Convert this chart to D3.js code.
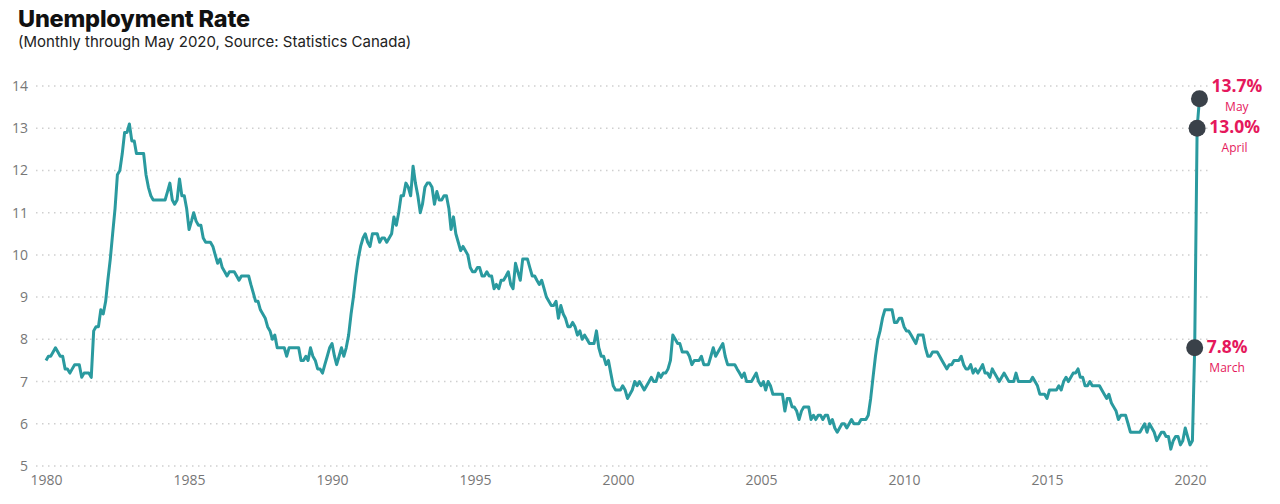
<!DOCTYPE html>
<html>
<head>
<meta charset="utf-8">
<script src="https://cdn.jsdelivr.net/npm/d3@7"></script>
<style>
  body { margin: 0; background: #fff; }
  svg text { font-family: "Open Sans", sans-serif; }
</style>
</head>
<body>
<svg id="chart" width="1280" height="504"></svg>
<script>
// monthly unemployment rate (%), Statistics Canada, Jan 1980 onward
const rate1980s = [
  7.5, 7.6, 7.6, 7.7, 7.8, 7.7, 7.6, 7.6, 7.3, 7.3, 7.2, 7.3,
  7.4, 7.4, 7.4, 7.1, 7.2, 7.2, 7.2, 7.1, 8.2, 8.3, 8.3, 8.7,
  8.6, 8.9, 9.4, 9.9, 10.5, 11.1, 11.9, 12.0, 12.4, 12.9, 12.9, 13.1,
  12.7, 12.7, 12.4, 12.4, 12.4, 12.4, 11.9, 11.6, 11.4, 11.3, 11.3, 11.3,
  11.3, 11.3, 11.3, 11.5, 11.7, 11.3, 11.2, 11.3, 11.8, 11.4, 11.4, 11.1,
  10.6, 10.8, 11.0, 10.8, 10.7, 10.7, 10.4, 10.3, 10.3, 10.3, 10.2, 10.0,
  9.8, 9.9, 9.7, 9.6, 9.5, 9.6, 9.6, 9.6, 9.5, 9.4, 9.5, 9.5,
  9.5, 9.5, 9.3, 9.1, 8.9, 8.9, 8.7, 8.6, 8.5, 8.3, 8.2, 8.0,
  8.1, 7.8, 7.8, 7.8, 7.8, 7.6, 7.8, 7.8, 7.8, 7.8, 7.8, 7.5,
  7.5, 7.6, 7.5, 7.8, 7.6, 7.5, 7.3, 7.3, 7.2, 7.4, 7.6, 7.8,
];
const rate1990s = [
  7.9, 7.6, 7.4, 7.6, 7.8, 7.6, 7.8, 8.1, 8.6, 9.0, 9.5, 9.9,
  10.2, 10.4, 10.5, 10.3, 10.2, 10.5, 10.5, 10.5, 10.3, 10.4, 10.4, 10.3,
  10.4, 10.5, 10.9, 10.7, 11.0, 11.4, 11.4, 11.7, 11.6, 11.4, 12.1, 11.7,
  11.4, 11.0, 11.2, 11.6, 11.7, 11.7, 11.6, 11.2, 11.5, 11.3, 11.3, 11.4,
  11.4, 11.1, 10.6, 10.9, 10.5, 10.3, 10.1, 10.2, 10.1, 10.0, 9.7, 9.6,
  9.6, 9.7, 9.7, 9.5, 9.5, 9.6, 9.5, 9.5, 9.2, 9.3, 9.2, 9.4,
  9.4, 9.5, 9.6, 9.3, 9.2, 9.8, 9.6, 9.4, 9.9, 9.9, 9.9, 9.7,
  9.5, 9.5, 9.4, 9.3, 9.4, 9.2, 9.0, 8.9, 8.8, 8.8, 8.9, 8.5,
  8.8, 8.6, 8.5, 8.3, 8.3, 8.4, 8.3, 8.1, 8.2, 8.0, 8.1, 8.0,
  7.9, 7.9, 7.9, 8.2, 7.8, 7.6, 7.6, 7.4, 7.5, 7.2, 6.9, 6.8,
];
const rate2000s = [
  6.8, 6.8, 6.9, 6.8, 6.6, 6.7, 6.8, 7.0, 6.9, 7.0, 6.9, 6.8,
  6.9, 7.0, 7.1, 7.0, 7.0, 7.2, 7.1, 7.2, 7.2, 7.3, 7.5, 8.1,
  8.0, 7.9, 7.9, 7.7, 7.7, 7.7, 7.6, 7.4, 7.5, 7.5, 7.5, 7.6,
  7.4, 7.4, 7.4, 7.6, 7.8, 7.6, 7.7, 7.8, 7.9, 7.6, 7.4, 7.4,
  7.4, 7.4, 7.3, 7.2, 7.1, 7.2, 7.0, 7.0, 7.0, 7.1, 7.2, 7.0,
  6.9, 7.0, 6.8, 7.0, 6.9, 6.7, 6.7, 6.7, 6.7, 6.7, 6.3, 6.6,
  6.6, 6.4, 6.4, 6.3, 6.1, 6.3, 6.4, 6.4, 6.4, 6.1, 6.2, 6.1,
  6.2, 6.2, 6.1, 6.2, 6.2, 6.0, 6.1, 5.9, 5.8, 5.9, 6.0, 6.0,
  5.9, 6.0, 6.1, 6.0, 6.0, 6.0, 6.1, 6.1, 6.1, 6.2, 6.6, 7.1,
  7.6, 8.0, 8.2, 8.5, 8.7, 8.7, 8.7, 8.7, 8.4, 8.4, 8.5, 8.5,
];
const rate2010s = [
  8.3, 8.2, 8.2, 8.1, 8.0, 7.9, 8.1, 8.1, 8.1, 7.8, 7.6, 7.6,
  7.7, 7.7, 7.7, 7.6, 7.5, 7.4, 7.3, 7.4, 7.4, 7.5, 7.5, 7.5,
  7.6, 7.4, 7.3, 7.3, 7.4, 7.2, 7.3, 7.2, 7.3, 7.4, 7.2, 7.2,
  7.1, 7.3, 7.2, 7.1, 7.0, 7.1, 7.2, 7.1, 7.0, 7.0, 7.0, 7.2,
  7.0, 7.0, 7.0, 7.0, 7.0, 7.0, 7.1, 7.0, 6.9, 6.7, 6.7, 6.7,
  6.6, 6.8, 6.8, 6.8, 6.8, 6.9, 6.8, 7.0, 7.1, 7.0, 7.1, 7.2,
  7.2, 7.3, 7.1, 7.1, 6.9, 6.9, 7.0, 6.9, 6.9, 6.9, 6.9, 6.8,
  6.7, 6.6, 6.7, 6.5, 6.4, 6.3, 6.1, 6.2, 6.2, 6.2, 6.0, 5.8,
  5.8, 5.8, 5.8, 5.8, 5.9, 6.0, 5.8, 6.0, 5.9, 5.8, 5.6, 5.7,
  5.8, 5.8, 5.7, 5.7, 5.4, 5.6, 5.7, 5.7, 5.5, 5.6, 5.9, 5.7,
];
const rate2020 = [5.5, 5.6, 7.8, 13.0, 13.7];

const yTicks = [5, 6, 7, 8, 9, 10, 11, 12, 13, 14];
const xTickYears = [1980, 1985, 1990, 1995, 2000, 2005, 2010, 2015, 2020];
const calloutMonths = ["March", "April", "May"];
// May's label sits higher so it clears April's
const calloutShift = [0, 0, -12];

const values = [...rate1980s, ...rate1990s, ...rate2000s, ...rate2010s, ...rate2020];
const data = values.map((v, i) => ({ date: new Date(1980, i, 1), value: v }));

const svg = d3.select("#chart");

const x = d3.scaleTime()
  .domain([new Date(1980, 0, 1), new Date(2020, 0, 1)])
  .range([46, 1190]);
const y = d3.scaleLinear().domain([5, 14]).range([466, 86]);

// title
svg.append("text")
  .attr("x", 18).attr("y", 27)
  .style("font-family", "Inter, sans-serif")
  .style("font-weight", 800)
  .style("font-size", "23.5px")
  .style("letter-spacing", "-0.2px")
  .style("fill", "#111")
  .text("Unemployment Rate");
svg.append("text")
  .attr("x", 18).attr("y", 47)
  .style("font-family", "Inter, sans-serif")
  .style("font-size", "15px")
  .style("fill", "#222")
  .text("(Monthly through May 2020, Source: Statistics Canada)");

// dotted gridlines
svg.append("g")
  .selectAll("line")
  .data(yTicks)
  .join("line")
  .attr("x1", 36).attr("x2", 1208)
  .attr("y1", (d) => y(d)).attr("y2", (d) => y(d))
  .style("stroke", "#cfcfcf")
  .style("stroke-width", 1.5)
  .style("stroke-dasharray", "1.5,4.5");

// y axis labels
const yAxis = svg.append("g")
  .attr("transform", "translate(28,0)")
  .call(d3.axisLeft(y).tickValues(yTicks).tickSize(0).tickPadding(0));
yAxis.select(".domain").remove();
yAxis.selectAll("text")
  .style("font-family", "Open Sans, sans-serif")
  .style("font-size", "14px")
  .style("fill", "#777");

// x axis labels
const xAxis = svg.append("g")
  .attr("transform", "translate(0,475)")
  .call(d3.axisBottom(x)
    .tickValues(xTickYears.map((yr) => new Date(yr, 0, 1)))
    .tickFormat(d3.timeFormat("%Y"))
    .tickSize(0).tickPadding(0));
xAxis.select(".domain").remove();
xAxis.selectAll("text")
  .style("font-family", "Open Sans, sans-serif")
  .style("font-size", "14px")
  .style("fill", "#777");

// the line
svg.append("path")
  .datum(data)
  .attr("d", d3.line().x((d) => x(d.date)).y((d) => y(d.value)))
  .style("fill", "none")
  .style("stroke", "#2a9a9f")
  .style("stroke-width", 3)
  .style("stroke-linejoin", "round");

// callouts for the last three months
const callouts = data.slice(-3).map((d, i) => ({ ...d, label: calloutMonths[i], dy: calloutShift[i] }));

const g = svg.append("g")
  .selectAll("g")
  .data(callouts)
  .join("g")
  .attr("transform", (d) => `translate(${x(d.date)},${y(d.value)})`);

g.append("circle")
  .attr("r", 8.5)
  .style("fill", "#3a4149");

g.append("text")
  .attr("class", "pct")
  .attr("x", 12).attr("y", (d) => 5 + d.dy)
  .style("font-family", "Open Sans, sans-serif")
  .style("font-weight", 700)
  .style("font-size", "17.5px")
  .style("fill", "#e5185c")
  .text((d) => d.value.toFixed(1) + "%");

g.each(function (d) {
  const w = d3.select(this).select(".pct").node().getComputedTextLength();
  d3.select(this).append("text")
    .attr("x", 12 + w / 2).attr("y", 24 + d.dy)
    .attr("text-anchor", "middle")
    .style("font-family", "Open Sans, sans-serif")
    .style("font-size", "12px")
    .style("fill", "#e5185c")
    .text(d.label);
});
</script>
</body>
</html>
